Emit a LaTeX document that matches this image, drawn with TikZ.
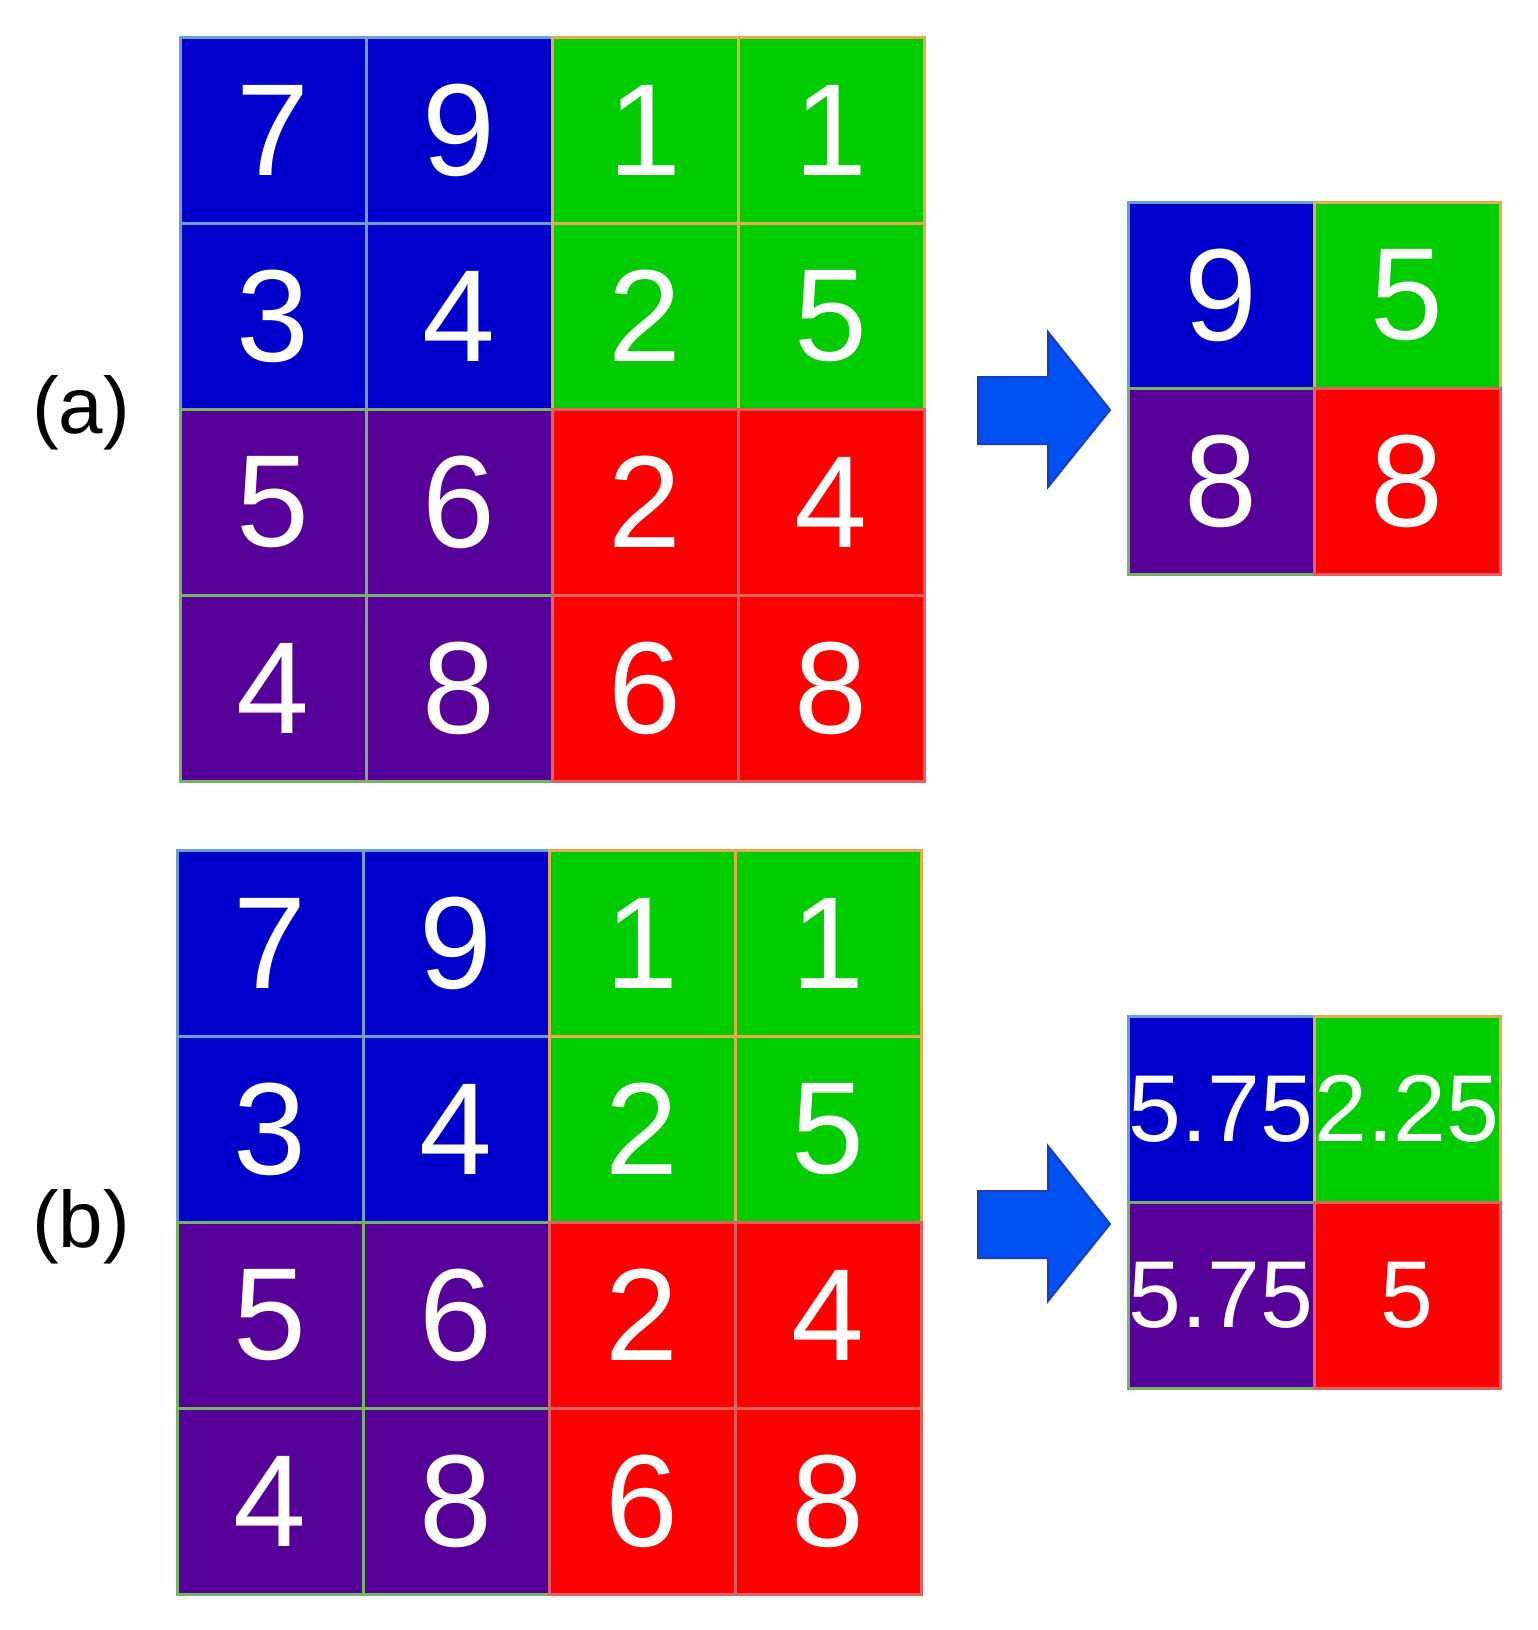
\documentclass[tikz,border=0pt]{standalone}
\usepackage{fontspec}
\setmainfont{Liberation Sans}
\definecolor{cblue}{HTML}{0000CC}
\definecolor{cgreen}{HTML}{00CC00}
\definecolor{cpurple}{HTML}{560099}
\definecolor{cred}{HTML}{FF0000}
\definecolor{lblue}{HTML}{6A9FD0}
\definecolor{lgreen}{HTML}{E8AA50}
\definecolor{lpurple}{HTML}{74B464}
\definecolor{lred}{HTML}{E06060}
\definecolor{afill}{HTML}{0050F2}
\definecolor{aline}{HTML}{1A3AC8}
\begin{document}
\begin{tikzpicture}[x=1pt,y=-1pt,
  cell/.style={minimum width=186pt, minimum height=186pt, inner sep=0pt, outer sep=0pt,
    anchor=north west, line width=3pt, text=white, font=\fontsize{131}{131}\selectfont},
  smallnum/.style={font=\fontsize{95}{95}\selectfont},
  bc/.style={cell, fill=cblue, draw=lblue},
  gc/.style={cell, fill=cgreen, draw=lgreen},
  pc/.style={cell, fill=cpurple, draw=lpurple},
  rc/.style={cell, fill=cred, draw=lred},
  bigarrow/.style={fill=afill, draw=aline, line width=2pt, line join=miter},
  lab/.style={font=\fontsize{80}{80}\selectfont, text=black, inner sep=0pt}]
\useasboundingbox (0,0) rectangle (1538,1630);

% ---------- (a) ----------
\node[lab] (la) at (81,413) {(a)};
\node[bc] (a11) at (180,37) {7};
\node[bc] (a12) at (366,37) {9};
\node[gc] (a13) at (552,37) {1};
\node[gc] (a14) at (738,37) {1};
\node[bc] (a21) at (180,223) {3};
\node[bc] (a22) at (366,223) {4};
\node[gc] (a23) at (552,223) {2};
\node[gc] (a24) at (738,223) {5};
\node[pc] (a31) at (180,409) {5};
\node[pc] (a32) at (366,409) {6};
\node[rc] (a33) at (552,409) {2};
\node[rc] (a34) at (738,409) {4};
\node[pc] (a41) at (180,595) {4};
\node[pc] (a42) at (366,595) {8};
\node[rc] (a43) at (552,595) {6};
\node[rc] (a44) at (738,595) {8};

\draw[bigarrow] (978,377) -- (1048,377) -- (1048,332) -- (1110,410) -- (1048,487) -- (1048,444) -- (978,444) -- cycle;

\node[bc] (sa11) at (1128,202) {9};
\node[gc] (sa12) at (1314,202) {5};
\node[pc] (sa21) at (1128,388) {8};
\node[rc] (sa22) at (1314,388) {8};

% ---------- (b) ----------
\node[lab] (lb) at (81,1227) {(b)};
\node[bc] (b11) at (177,850) {7};
\node[bc] (b12) at (363,850) {9};
\node[gc] (b13) at (549,850) {1};
\node[gc] (b14) at (735,850) {1};
\node[bc] (b21) at (177,1036) {3};
\node[bc] (b22) at (363,1036) {4};
\node[gc] (b23) at (549,1036) {2};
\node[gc] (b24) at (735,1036) {5};
\node[pc] (b31) at (177,1222) {5};
\node[pc] (b32) at (363,1222) {6};
\node[rc] (b33) at (549,1222) {2};
\node[rc] (b34) at (735,1222) {4};
\node[pc] (b41) at (177,1408) {4};
\node[pc] (b42) at (363,1408) {8};
\node[rc] (b43) at (549,1408) {6};
\node[rc] (b44) at (735,1408) {8};

\draw[bigarrow] (978,1191) -- (1048,1191) -- (1048,1146) -- (1110,1224) -- (1048,1301) -- (1048,1258) -- (978,1258) -- cycle;

\node[bc,smallnum] (sb11) at (1128,1016) {5.75};
\node[gc,smallnum] (sb12) at (1314,1016) {2.25};
\node[pc,smallnum] (sb21) at (1128,1202) {5.75};
\node[rc,smallnum] (sb22) at (1314,1202) {5};
\end{tikzpicture}
\end{document}
